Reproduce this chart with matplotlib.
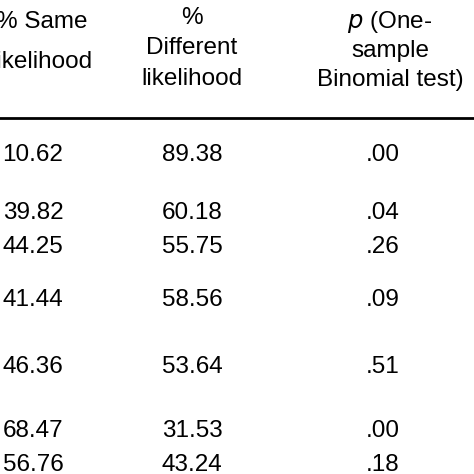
import matplotlib.pyplot as plt

# table data
same = ["10.62", "39.82", "44.25", "41.44", "46.36", "68.47", "56.76"]
different = ["89.38", "60.18", "55.75", "58.56", "53.64", "31.53", "43.24"]
p_values = [".00", ".04", ".26", ".09", ".51", ".00", ".18"]
row_y = [155, 213, 247, 300, 367, 431, 465]

plt.rcParams["font.family"] = ["Liberation Sans", "DejaVu Sans"]

fig = plt.figure(figsize=(4.74, 4.74), dpi=100)
ax = fig.add_axes([0, 0, 1, 1])
ax.set_xlim(0, 474)
ax.set_ylim(474, 0)
ax.axis("off")

fs = 17.5
col_x = [42, 192, 390]

# headers
ax.text(col_x[0], 22, "% Same", ha="center", va="center", fontsize=fs)
ax.text(col_x[0], 62, "likelihood", ha="center", va="center", fontsize=fs)
ax.text(col_x[1], 18, "%", ha="center", va="center", fontsize=fs)
ax.text(col_x[1], 48, "Different", ha="center", va="center", fontsize=fs)
ax.text(col_x[1], 79, "likelihood", ha="center", va="center", fontsize=fs)
ax.text(col_x[2], 22, r"$\it{p}$ (One-", ha="center", va="center", fontsize=fs)
ax.text(col_x[2], 51, "sample", ha="center", va="center", fontsize=fs)
ax.text(col_x[2], 80, "Binomial test)", ha="center", va="center", fontsize=fs)

ax.axhline(118, color="black", lw=2)

for y, s, d, p in zip(row_y, same, different, p_values):
    ax.text(33, y, s, ha="center", va="center", fontsize=fs)
    ax.text(col_x[1], y, d, ha="center", va="center", fontsize=fs)
    ax.text(383, y, p, ha="center", va="center", fontsize=fs)

fig.savefig("out.png", dpi=100)
